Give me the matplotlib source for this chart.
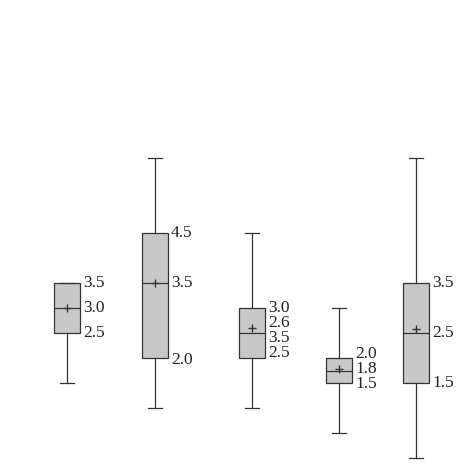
import matplotlib
matplotlib.use('Agg')
import matplotlib.pyplot as plt

plt.rcParams['font.family'] = ['Liberation Serif', 'DejaVu Serif']

# ── Data ─────────────────────────────────────────────────────────────────────
whislo = [1.5, 1.0, 1.0, 0.5, 0.0]
q1     = [2.5, 2.0, 2.0, 1.5, 1.5]
med    = [3.0, 3.5, 2.5, 1.75, 2.5]
q3     = [3.5, 4.5, 3.0, 2.0, 3.5]
whishi = [3.5, 6.0, 4.5, 3.0, 6.0]
means  = [3.0, 3.5, 2.6, 1.78, 2.58]

label_text = [['3.5', '3.0', '2.5'],
              ['4.5', '3.5', '2.0'],
              ['3.0', '2.6', '3.5', '2.5'],
              ['2.0', '1.8', '1.5'],
              ['3.5', '2.5', '1.5']]
label_y = [[3.5, 3.0, 2.5],
           [4.5, 3.5, 1.95],
           [3.0, 2.7, 2.4, 2.1],
           [2.07, 1.78, 1.49],
           [3.5, 2.5, 1.5]]

# ── Layout ───────────────────────────────────────────────────────────────────
POS = [67, 155, 252, 339, 416]
WIDTH = 26

fig = plt.figure(figsize=(4.74, 4.67), dpi=100)
ax = fig.add_axes([0, 0, 1, 1])
ax.axis('off')
ax.set_xlim(0, 474)
ax.set_ylim(-0.18, 9.16)

stats = [dict(whislo=a, q1=b, med=c, q3=d, whishi=e, mean=m, fliers=[])
         for a, b, c, d, e, m in zip(whislo, q1, med, q3, whishi, means)]
ax.bxp(stats, positions=POS, widths=WIDTH, patch_artist=True, showmeans=True,
       boxprops=dict(facecolor='#c8c8c8', edgecolor='#333333', lw=0.9),
       medianprops=dict(color='#333333', lw=0.9),
       whiskerprops=dict(color='#333333', lw=0.9),
       capprops=dict(color='#333333', lw=0.9),
       meanprops=dict(marker='+', markeredgecolor='#333333', markersize=6),
       capwidths=WIDTH * 0.55)

for x, texts, ys in zip(POS, label_text, label_y):
    for t, y in zip(texts, ys):
        ax.text(x + WIDTH / 2 + 3, y, t, ha='left', va='center',
                fontsize=12.5, color='#222222')

fig.savefig('out.png', dpi=100)
